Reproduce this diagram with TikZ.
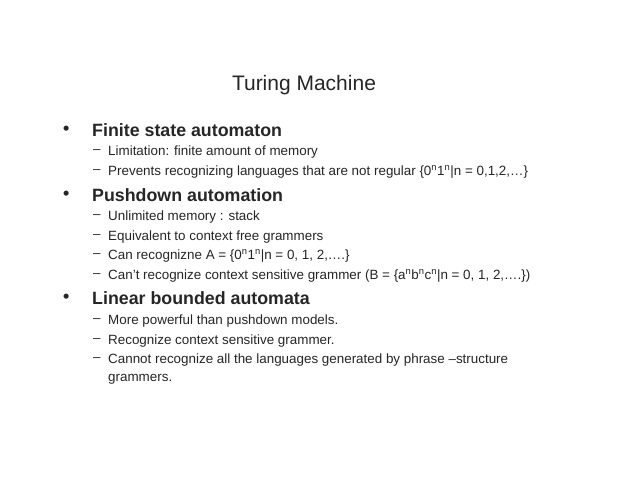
\documentclass[tikz,border=0pt]{standalone}
\usepackage{fontspec}
\setmainfont{Liberation Sans}
\begin{document}
\begin{tikzpicture}[x=1pt,y=-1pt,
 every node/.style={inner sep=0pt,anchor=west,text=black!85},
 head/.style={font=\fontsize{17.8}{20}\selectfont\bfseries},
 sub/.style={font=\fontsize{13.4}{15}\selectfont},
 ttl/.style={font=\fontsize{21}{24}\selectfont,anchor=center}]
\useasboundingbox[fill=white] (0,0) rectangle (638,478);
\node[ttl] (t) at (304,85) {Turing Machine};
\newcommand\myhd[3]{\node[head] (b#1) at (63,#2) {•}; \node[head] (h#1) at (92,#2) {#3};}
\newcommand\mysb[3]{\node[sub] (d#1) at (93,#2) {–}; \node[sub] (s#1) at (108,#2) {#3};}
\myhd{1}{130}{Finite state automaton}
\mysb{1}{152}{Limitation: finite amount of memory}
\mysb{2}{172}{Prevents recognizing languages that are not regular \{0\textsuperscript{n}1\textsuperscript{n}|n = 0,1,2,…\}}
\myhd{2}{195}{Pushdown automation}
\mysb{3}{217}{Unlimited memory : stack}
\mysb{4}{237}{Equivalent to context free grammers}
\mysb{5}{256}{Can recognizne A = \{0\textsuperscript{n}1\textsuperscript{n}|n = 0, 1, 2,….\}}
\mysb{6}{276}{Can't recognize context sensitive grammer (B = \{a\textsuperscript{n}b\textsuperscript{n}c\textsuperscript{n}|n = 0, 1, 2,….\})}
\myhd{3}{298}{Linear bounded automata}
\mysb{7}{321}{More powerful than pushdown models.}
\mysb{8}{341}{Recognize context sensitive grammer.}
\mysb{9}{360}{Cannot recognize all the languages generated by phrase –structure}
\node[sub] (s10) at (108,379) {grammers.};
\end{tikzpicture}
\end{document}
